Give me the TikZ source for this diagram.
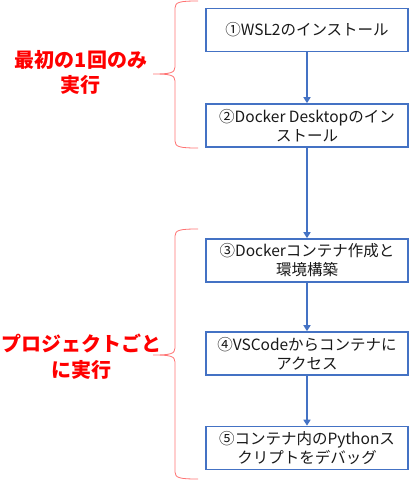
\documentclass[tikz,border=0pt]{standalone}
\usepackage{fontspec}
\setmainfont{Noto Sans CJK JP}
\usepackage{tikz}
\usetikzlibrary{arrows.meta,shapes}
\definecolor{boxblue}{RGB}{68,114,196}
\tikzstyle{step box}=[rectangle, draw=boxblue
,line width=1.6pt
,minimum width=202pt
,minimum height=43pt
,inner sep=0pt
,align=center
,text=black!90
,font=\fontsize{15.5}{19}\selectfont
]
\tikzstyle{phase label} = [align=center, text=red, font=\fontsize{20}{25.5}\selectfont\bfseries]
\tikzstyle{flow edge} = [draw, boxblue, line width=1.5pt, -{Triangle[width=7pt,length=6pt]}]
\tikzstyle{brace line} = [draw, red!55, line width=0.8pt]

\begin{document}
\begin{tikzpicture}[x=1pt,y=-1pt]
    \useasboundingbox (0,0) rectangle (410,482);
    % First we draw the steps
    \foreach \pos/\name/\txt in {{(307,30)/S_1/{①WSL2のインストール}},
        {(307,125.5)/S_2/{②Docker\ Desktopのイン\\ストール}},
        {(307,260.5)/S_3/{③Dockerコンテナ作成と\\環境構築}},
        {(307,353.5)/S_4/{④VSCodeからコンテナに\\アクセス}},
        {(307,448)/S_5/{⑤コンテナ内のPythonス\\クリプトをデバッグ}}}
        \node[step box] (\name) at \pos {\txt};

    % Connect steps with arrows
    \foreach \source/ \dest in {S_1/S_2, S_2/S_3, S_3/S_4, S_4/S_5}
        \path[flow edge] (\source) -- (\dest) ;

    % Braces and their labels
    \foreach \ytop/\ytip/\ybot in {1/74/148, 229/355/479}
        \draw[brace line] (198,\ytop) .. controls (180,\ytop) and (175,\ytop+1) .. (175,\ytop+7)
            -- (175,\ytip-7) .. controls (175,\ytip-1) and (170,\ytip) .. (153,\ytip)
            .. controls (170,\ytip) and (175,\ytip+1) .. (175,\ytip+7)
            -- (175,\ybot-7) .. controls (175,\ybot-1) and (180,\ybot) .. (198,\ybot);

    \node[phase label] (once) at (81,72.5) {最初の1回のみ\\実行};
    \node[phase label] (each) at (81.5,356.5) {プロジェクトごと\\に実行};
\end{tikzpicture}
\end{document}
